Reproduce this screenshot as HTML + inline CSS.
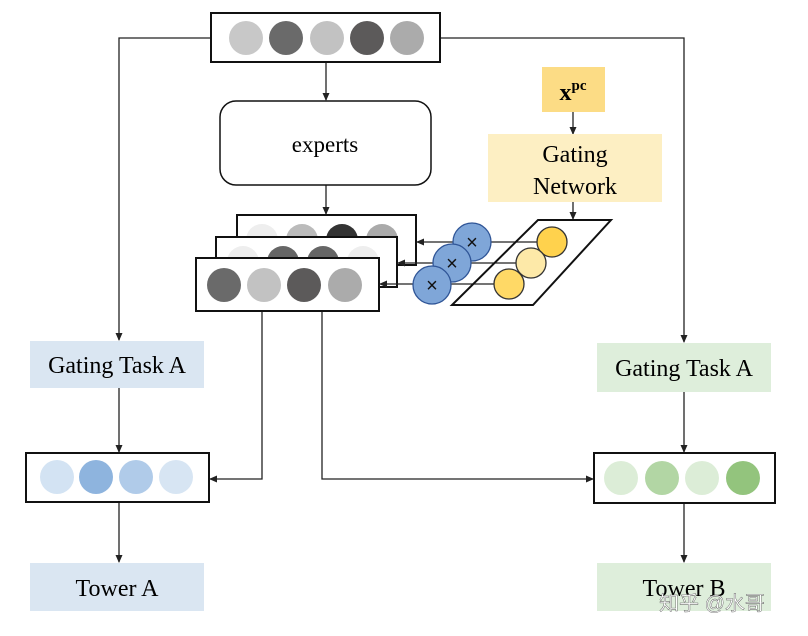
<!DOCTYPE html>
<html><head><meta charset="utf-8"><style>body{margin:0;background:#fff}svg{display:block}</style></head><body>
<svg width="808" height="636" viewBox="0 0 808 636" xmlns="http://www.w3.org/2000/svg" font-family="Liberation Serif, serif">
<defs><marker id="a" markerWidth="8" markerHeight="8" refX="7" refY="4" orient="auto" markerUnits="userSpaceOnUse"><path d="M0,0.5 L8,4 L0,7.5z" fill="#222"/></marker></defs>
<g stroke="#222" stroke-width="1.3" fill="none">
<path d="M211,38 H119 V340" marker-end="url(#a)"/>
<path d="M440,38 H684 V342" marker-end="url(#a)"/>
<path d="M326,62 V100" marker-end="url(#a)"/>
<path d="M326,185 V214" marker-end="url(#a)"/>
<path d="M573,112 V134" marker-end="url(#a)"/>
<path d="M573,202 V219" marker-end="url(#a)"/>
<path d="M119,388 V452" marker-end="url(#a)"/>
<path d="M119,502 V562" marker-end="url(#a)"/>
<path d="M684,392 V452" marker-end="url(#a)"/>
<path d="M684,503 V562" marker-end="url(#a)"/>
<path d="M262,311 V479 H210" marker-end="url(#a)"/>
<path d="M322,311 V479 H593" marker-end="url(#a)"/>
</g>
<rect x="211" y="13" width="229" height="49" fill="#fff" stroke="#111" stroke-width="2"/>
<circle cx="246" cy="38" r="17" fill="#c8c8c8"/><circle cx="286" cy="38" r="17" fill="#6a6a6a"/><circle cx="327" cy="38" r="17" fill="#c2c2c2"/><circle cx="367" cy="38" r="17" fill="#5c5a5a"/><circle cx="407" cy="38" r="17" fill="#ababab"/>
<rect x="220" y="101" width="211" height="84" rx="16" fill="#fff" stroke="#111" stroke-width="1.5"/>
<text x="325" y="152" font-size="23" text-anchor="middle">experts</text>
<rect x="542" y="67" width="63" height="45" fill="#fcdc85"/>
<text x="573" y="100" font-size="24" font-weight="bold" text-anchor="middle">x<tspan font-size="15" dy="-10">pc</tspan></text>
<rect x="488" y="134" width="174" height="68" fill="#fdefc3"/>
<text x="575" y="162" font-size="24" text-anchor="middle">Gating</text>
<text x="575" y="194" font-size="24" text-anchor="middle">Network</text>
<rect x="237" y="215" width="179" height="50" fill="#fff" stroke="#111" stroke-width="2"/>
<circle cx="262" cy="240" r="16" fill="#eee"/><circle cx="302" cy="240" r="16" fill="#bbb"/><circle cx="342" cy="240" r="16" fill="#333"/><circle cx="382" cy="240" r="16" fill="#aaa"/>
<rect x="216" y="237" width="181" height="50" fill="#fff" stroke="#111" stroke-width="2"/>
<circle cx="243" cy="262" r="16" fill="#eee"/><circle cx="283" cy="262" r="16" fill="#666"/><circle cx="323" cy="262" r="16" fill="#666"/><circle cx="363" cy="262" r="16" fill="#eee"/>
<rect x="196" y="258" width="183" height="53" fill="#fff" stroke="#111" stroke-width="2"/>
<circle cx="224" cy="285" r="17" fill="#6a6a6a"/><circle cx="264" cy="285" r="17" fill="#c2c2c2"/><circle cx="304" cy="285" r="17" fill="#5c5a5a"/><circle cx="345" cy="285" r="17" fill="#ababab"/>
<g stroke="#222" stroke-width="1.3">
<path d="M453,242 H417" marker-end="url(#a)"/><path d="M433,263 H398" marker-end="url(#a)"/><path d="M413,284 H380" marker-end="url(#a)"/>
<path d="M472,242 H552"/><path d="M452,263 H531"/><path d="M432,284 H509"/>
</g>
<polygon points="538,220 611,220 533,305 452,305" fill="none" stroke="#111" stroke-width="2"/>
<g stroke="#2f5597" stroke-width="1.3" fill="#7fa6d8">
<circle cx="472" cy="242" r="19"/><circle cx="452" cy="263" r="19"/><circle cx="432" cy="285" r="19"/></g>
<g font-family="Liberation Sans, sans-serif" font-size="20" text-anchor="middle" fill="#111"><text x="472" y="249">×</text><text x="452" y="270">×</text><text x="432" y="292">×</text></g>
<g stroke="#333" stroke-width="1.3"><circle cx="552" cy="242" r="15" fill="#ffd24d"/><circle cx="531" cy="263" r="15" fill="#fde9a8"/><circle cx="509" cy="284" r="15" fill="#ffd966"/></g>
<rect x="30" y="341" width="174" height="47" fill="#dae6f2"/>
<text x="117" y="373" font-size="24" text-anchor="middle">Gating Task A</text>
<rect x="597" y="343" width="174" height="49" fill="#deeedb"/>
<text x="684" y="376" font-size="24" text-anchor="middle">Gating Task A</text>
<rect x="26" y="453" width="183" height="49" fill="#fff" stroke="#111" stroke-width="2"/>
<circle cx="57" cy="477" r="17" fill="#d3e3f3"/><circle cx="96" cy="477" r="17" fill="#8eb4de"/><circle cx="136" cy="477" r="17" fill="#b0cbe9"/><circle cx="176" cy="477" r="17" fill="#d7e5f3"/>
<rect x="594" y="453" width="181" height="50" fill="#fff" stroke="#111" stroke-width="2"/>
<circle cx="621" cy="478" r="17" fill="#dcedd7"/><circle cx="662" cy="478" r="17" fill="#b2d6a4"/><circle cx="702" cy="478" r="17" fill="#dcedd7"/><circle cx="743" cy="478" r="17" fill="#93c47d"/>
<rect x="30" y="563" width="174" height="48" fill="#dae6f2"/>
<text x="117" y="596" font-size="24" text-anchor="middle">Tower A</text>
<rect x="597" y="563" width="174" height="48" fill="#deeedb"/>
<text x="684" y="596" font-size="24" text-anchor="middle">Tower B</text>
<text x="712" y="610" font-size="20" font-family="Liberation Sans, Noto Sans CJK SC, sans-serif" fill="#fff" stroke="#555" stroke-width="0.4" text-anchor="middle">知乎 @水哥</text>
</svg>
</body></html>
